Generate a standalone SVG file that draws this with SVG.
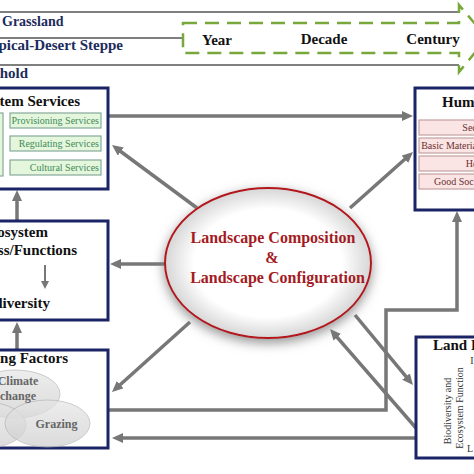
<svg xmlns="http://www.w3.org/2000/svg" width="474" height="474" viewBox="0 0 474 474">
<style>
.title{font-family:"Liberation Serif",serif;font-weight:bold;font-size:15px;fill:#111}
.hdr{font-family:"Liberation Serif",serif;font-weight:bold;font-size:15px;fill:#1c2c5c}
.scale{font-family:"Liberation Serif",serif;font-weight:bold;font-size:15px;fill:#111;text-anchor:middle}
.box{fill:#fff;stroke:#1b2466;stroke-width:3}
.gbox{fill:#e4f7dc;stroke:#86a89a;stroke-width:1.2}
.gtxt{font-family:"Liberation Serif",serif;font-size:10px;fill:#3f8a5a;text-anchor:end}
.pbox{fill:#fbe4e4;stroke:#c4a0a0;stroke-width:1.2}
.ptxt{font-family:"Liberation Serif",serif;font-size:10px;fill:#6a3030;text-anchor:middle}
.venn{fill:url(#vg);stroke:#b4b4b4;stroke-width:1;opacity:0.7}
.vtxt{font-family:"Liberation Serif",serif;font-weight:bold;font-size:12px;fill:#666;text-anchor:middle}
.conn{fill:none;stroke:#777;stroke-width:3.5}
.ctr{font-family:"Liberation Serif",serif;font-weight:bold;font-size:16px;fill:#a31b1f;text-anchor:middle}
.rl{stroke:#555;stroke-width:1.6}
.rot{font-family:"Liberation Serif",serif;font-size:10px;fill:#333;text-anchor:middle}
</style>
<defs>
<marker id="ah" viewBox="0 0 11 10" refX="6" refY="5" markerWidth="11" markerHeight="10" markerUnits="userSpaceOnUse" orient="auto">
<path d="M0,0 L11,5 L0,10 z" fill="#777"/>
</marker>
<marker id="ahs" viewBox="0 0 8 8" refX="4" refY="4" markerWidth="8" markerHeight="8" markerUnits="userSpaceOnUse" orient="auto">
<path d="M0,0 L8,4 L0,8 z" fill="#777"/>
</marker>
<linearGradient id="vg" x1="0" y1="0" x2="0" y2="1">
<stop offset="0" stop-color="#e6e6e6"/>
<stop offset="1" stop-color="#cdcdcd"/>
</linearGradient>
<radialGradient id="eg" cx="0.5" cy="0.5" r="0.5">
<stop offset="0.72" stop-color="#ffffff"/>
<stop offset="1" stop-color="#d6d6d6"/>
</radialGradient>
<filter id="glow" x="-20%" y="-20%" width="140%" height="150%">
<feGaussianBlur in="SourceAlpha" stdDeviation="6"/>
<feOffset dy="4" result="b"/>
<feFlood flood-color="#808080" flood-opacity="0.85"/>
<feComposite in2="b" operator="in"/>
<feMerge><feMergeNode/><feMergeNode in="SourceGraphic"/></feMerge>
</filter>
</defs>
<rect width="474" height="474" fill="#fff"/>

<g id="header">
<line class="rl" x1="0" y1="12" x2="459" y2="12"/>
<line class="rl" x1="0" y1="38" x2="183" y2="38"/>
<line class="rl" x1="0" y1="65" x2="459" y2="65"/>
<text class="hdr" x="2" y="26" style="font-size:14px">Grassland</text>
<text class="hdr" x="123" y="50" text-anchor="end">Typical-Desert Steppe</text>
<text class="hdr" x="28" y="78" text-anchor="end">Threshold</text>
</g>

<g id="timescale">
<path d="M183,23 H459 V5 L487,38 L459,72 V53 H183 Z" fill="none" stroke="#78a83c" stroke-width="2.5" stroke-dasharray="14,8"/>
<text class="scale" x="217" y="45">Year</text>
<text class="scale" x="324" y="44">Decade</text>
<text class="scale" x="433" y="44">Century</text>
</g>

<g id="connectors">
<path class="conn" d="M108,116 H408" marker-end="url(#ah)"/>
<path class="conn" d="M197,208 L116,148" marker-end="url(#ah)"/>
<path class="conn" d="M350,208 L409.3,155.3" marker-end="url(#ah)"/>
<path class="conn" d="M168,264 H115" marker-end="url(#ah)"/>
<path class="conn" d="M17,221 V195" marker-end="url(#ah)"/>
<path class="conn" d="M17,350 V327" marker-end="url(#ah)"/>
<path class="conn" d="M190,322 L115.7,388.7" marker-end="url(#ah)"/>
<path class="conn" d="M108,410 H386 V310 H457 V216" marker-end="url(#ah)"/>
<path class="conn" d="M355,315 L409.8,381.2" marker-end="url(#ah)"/>
<path class="conn" d="M416,428 L333.3,332.8" marker-end="url(#ah)"/>
<path class="conn" d="M416,438 H117" marker-end="url(#ah)"/>
</g>

<g id="center">
<ellipse cx="268" cy="263" rx="103" ry="75" fill="url(#eg)" stroke="#b3161c" stroke-width="2" filter="url(#glow)"/>
<text class="ctr" x="273" y="243">Landscape Composition</text>
<text class="ctr" x="272" y="263">&amp;</text>
<text class="ctr" x="277.5" y="283">Landscape Configuration</text>
</g>

<g id="ecosystem-services">
<rect class="box" x="-10" y="88" width="118" height="101"/>
<text class="title" x="80" y="106" text-anchor="end">Ecosystem Services</text>
<rect class="gbox" x="-50" y="113" width="53" height="63"/>
<rect class="gbox" x="10" y="113" width="91" height="15"/>
<text class="gtxt" x="99" y="124">Provisioning Services</text>
<rect class="gbox" x="10" y="136" width="91" height="15"/>
<text class="gtxt" x="99" y="147">Regulating Services</text>
<rect class="gbox" x="10" y="160" width="91" height="15"/>
<text class="gtxt" x="99" y="171">Cultural Services</text>
</g>

<g id="human-wellbeing">
<rect class="box" x="415" y="88" width="80" height="122"/>
<text class="title" x="442" y="107">Human Well-being</text>
<rect class="pbox" x="419" y="120" width="80" height="15"/>
<text class="ptxt" x="479" y="131">Security</text>
<rect class="pbox" x="419" y="138" width="80" height="15"/>
<text class="ptxt" x="479.5" y="149">Basic Material for Good Life</text>
<rect class="pbox" x="419" y="156" width="80" height="15"/>
<text class="ptxt" x="479" y="167">Health</text>
<rect class="pbox" x="419" y="174" width="80" height="15"/>
<text class="ptxt" x="479" y="185">Good Social Relations</text>
</g>

<g id="ecosystem-processes">
<rect class="box" x="-10" y="221" width="118" height="99"/>
<text class="title" x="48" y="237" text-anchor="end">Ecosystem</text>
<text class="title" x="77" y="255" text-anchor="end">Process/Functions</text>
<path d="M45,265 V285" fill="none" stroke="#777" stroke-width="2" marker-end="url(#ahs)"/>
<text class="title" x="50" y="308" text-anchor="end">Biodiversity</text>
</g>

<g id="driving-factors">
<rect class="box" x="-10" y="350" width="118" height="98"/>
<text class="title" x="68" y="363" text-anchor="end">Driving Factors</text>
<ellipse class="venn" cx="15" cy="394" rx="45" ry="24"/>
<ellipse class="venn" cx="-15" cy="425" rx="41" ry="23"/>
<ellipse class="venn" cx="47.5" cy="423.5" rx="42.5" ry="23.5"/>
<text class="vtxt" x="18" y="385">Climate</text>
<text class="vtxt" x="18" y="400">change</text>
<text class="vtxt" x="56.5" y="428">Grazing</text>
</g>

<g id="land">
<rect class="box" x="416" y="337" width="80" height="121"/>
<text class="title" x="433" y="350">Land Functions</text>
<text class="rot" transform="translate(451,411) rotate(-90)">Biodiversity and</text>
<text class="rot" transform="translate(463,408) rotate(-90)">Ecosystem Function</text>
<text class="rot" x="472" y="364">I</text>
<text class="rot" x="470" y="452">L</text>
</g>
</svg>
